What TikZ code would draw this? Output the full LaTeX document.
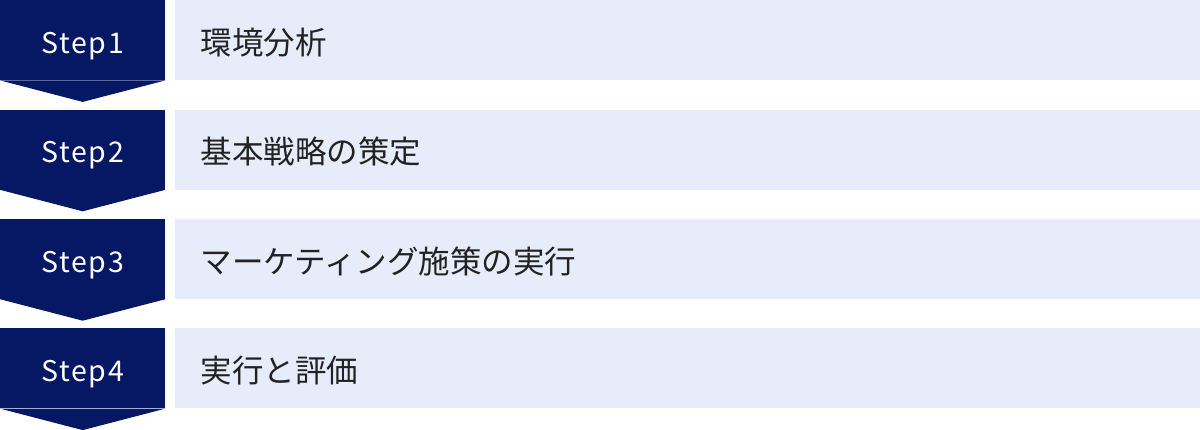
\documentclass[tikz,border=0pt]{standalone}
\usepackage{fontspec}
\usepackage{tikz}
\usetikzlibrary{positioning}
\setmainfont{Noto Sans CJK JP}
\newfontfamily\jpfont{Noto Sans CJK JP}
\newfontfamily\stepfont[LetterSpace=6]{Noto Sans CJK JP}

\definecolor{stepnavy}{RGB}{6,24,99}
\definecolor{rowblue}{RGB}{230,236,249}
\definecolor{rowtext}{RGB}{34,34,34}

\tikzset{
  stepbox/.style={fill=stepnavy, text=white, minimum width=165pt, minimum height=80pt,
    inner sep=0pt, text height=26pt, text depth=0pt, font=\stepfont\fontsize{28.5pt}{30pt}\selectfont},
  rowbox/.style={fill=rowblue, text=rowtext, anchor=west, minimum height=80pt,
    inner xsep=26pt, inner ysep=0pt, text width=974pt, align=left,
    text height=28pt, text depth=0pt, font=\jpfont\fontsize{31.5pt}{33pt}\selectfont},
}

\begin{document}
\begin{tikzpicture}[node distance=29pt]
  \useasboundingbox (0,0) rectangle (1200pt,-429pt);

  \node[stepbox, anchor=north west] at (0,0) (S1) {Step1};
  \node[stepbox, below=of S1] (S2) {Step2};
  \node[stepbox, below=of S2] (S3) {Step3};
  \node[stepbox, below=of S3] (S4) {Step4};

  \node[rowbox, right=9pt of S1] (T1) {環境分析};
  \node[rowbox, right=9pt of S2] (T2) {基本戦略の策定};
  \node[rowbox, right=9pt of S3] (T3) {マーケティング施策の実行};
  \node[rowbox, right=9pt of S4] (T4) {実行と評価};

  % chevron tips
  \fill[stepnavy] (S1.south west) -- (S1.south east) -- ([yshift=-21.5pt]S1.south) -- cycle;
  \fill[stepnavy] (S2.south west) -- (S2.south east) -- ([yshift=-21.5pt]S2.south) -- cycle;
  \fill[stepnavy] (S3.south west) -- (S3.south east) -- ([yshift=-21.5pt]S3.south) -- cycle;
  \fill[stepnavy] (S4.south west) -- (S4.south east) -- ([yshift=-21.5pt]S4.south) -- cycle;
\end{tikzpicture}
\end{document}
